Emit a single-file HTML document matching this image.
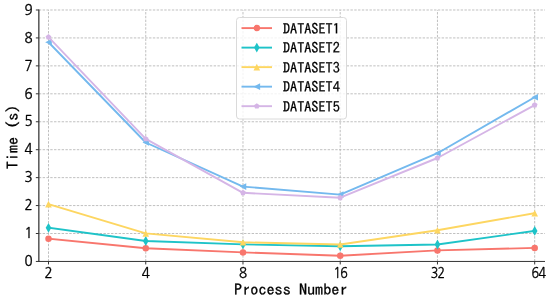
<!DOCTYPE html>
<html><head><meta charset="utf-8"><title>chart</title>
<style>html,body{margin:0;padding:0;background:#fff}body{width:550px;height:299px;overflow:hidden}</style></head>
<body>
<svg width="550" height="299" viewBox="0 0 550 299" style="display:block;font-family:IPAGothic, 'Liberation Mono', monospace">
<rect width="550" height="299" fill="#fff"/>
<path d="M48.50 261.45V10.0M145.74 261.45V10.0M242.98 261.45V10.0M340.22 261.45V10.0M437.46 261.45V10.0M534.70 261.45V10.0M38.85 233.51H545.0M38.85 205.57H545.0M38.85 177.63H545.0M38.85 149.69H545.0M38.85 121.75H545.0M38.85 93.81H545.0M38.85 65.87H545.0M38.85 37.93H545.0M38.85 9.99H545.0" stroke="#b0b0b0" stroke-width="0.8" stroke-dasharray="2.4 1.4" fill="none"/>
<polyline points="48.50,238.70 145.74,248.20 242.98,252.40 340.22,255.70 437.46,250.40 534.70,247.90" fill="none" stroke="#f8766d" stroke-width="1.9" stroke-linejoin="round" stroke-linecap="square"/>
<circle cx="48.50" cy="238.70" r="3.25" fill="#f8766d"/>
<circle cx="145.74" cy="248.20" r="3.25" fill="#f8766d"/>
<circle cx="242.98" cy="252.40" r="3.25" fill="#f8766d"/>
<circle cx="340.22" cy="255.70" r="3.25" fill="#f8766d"/>
<circle cx="437.46" cy="250.40" r="3.25" fill="#f8766d"/>
<circle cx="534.70" cy="247.90" r="3.25" fill="#f8766d"/>
<polyline points="48.50,227.80 145.74,241.00 242.98,244.40 340.22,246.30 437.46,244.50 534.70,230.90" fill="none" stroke="#1ec3c8" stroke-width="1.9" stroke-linejoin="round" stroke-linecap="square"/>
<path d="M48.50 222.90L51.30 227.80L48.50 232.70L45.70 227.80Z" fill="#1ec3c8"/>
<path d="M145.74 236.10L148.54 241.00L145.74 245.90L142.94 241.00Z" fill="#1ec3c8"/>
<path d="M242.98 239.50L245.78 244.40L242.98 249.30L240.18 244.40Z" fill="#1ec3c8"/>
<path d="M340.22 241.40L343.02 246.30L340.22 251.20L337.42 246.30Z" fill="#1ec3c8"/>
<path d="M437.46 239.60L440.26 244.50L437.46 249.40L434.66 244.50Z" fill="#1ec3c8"/>
<path d="M534.70 226.00L537.50 230.90L534.70 235.80L531.90 230.90Z" fill="#1ec3c8"/>
<polyline points="48.50,204.10 145.74,233.40 242.98,242.30 340.22,244.50 437.46,230.30 534.70,213.20" fill="none" stroke="#fdd661" stroke-width="1.9" stroke-linejoin="round" stroke-linecap="square"/>
<path d="M48.50 200.80L51.80 207.40L45.20 207.40Z" fill="#fdd661"/>
<path d="M145.74 230.10L149.04 236.70L142.44 236.70Z" fill="#fdd661"/>
<path d="M242.98 239.00L246.28 245.60L239.68 245.60Z" fill="#fdd661"/>
<path d="M340.22 241.20L343.52 247.80L336.92 247.80Z" fill="#fdd661"/>
<path d="M437.46 227.00L440.76 233.60L434.16 233.60Z" fill="#fdd661"/>
<path d="M534.70 209.90L538.00 216.50L531.40 216.50Z" fill="#fdd661"/>
<polyline points="48.50,42.20 145.74,142.50 242.98,186.60 340.22,194.60 437.46,153.20 534.70,97.20" fill="none" stroke="#74b9ee" stroke-width="1.9" stroke-linejoin="round" stroke-linecap="square"/>
<path d="M45.20 42.20L51.80 38.90L51.80 45.50Z" fill="#74b9ee"/>
<path d="M142.44 142.50L149.04 139.20L149.04 145.80Z" fill="#74b9ee"/>
<path d="M239.68 186.60L246.28 183.30L246.28 189.90Z" fill="#74b9ee"/>
<path d="M336.92 194.60L343.52 191.30L343.52 197.90Z" fill="#74b9ee"/>
<path d="M434.16 153.20L440.76 149.90L440.76 156.50Z" fill="#74b9ee"/>
<path d="M531.40 97.20L538.00 93.90L538.00 100.50Z" fill="#74b9ee"/>
<polyline points="48.50,37.10 145.74,138.90 242.98,192.80 340.22,197.70 437.46,158.00 534.70,105.00" fill="none" stroke="#d5b5e6" stroke-width="1.9" stroke-linejoin="round" stroke-linecap="square"/>
<path d="M48.50 34.10L51.35 36.17L50.26 39.53L46.74 39.53L45.65 36.17Z" fill="#d5b5e6"/>
<path d="M145.74 135.90L148.59 137.97L147.50 141.33L143.98 141.33L142.89 137.97Z" fill="#d5b5e6"/>
<path d="M242.98 189.80L245.83 191.87L244.74 195.23L241.22 195.23L240.13 191.87Z" fill="#d5b5e6"/>
<path d="M340.22 194.70L343.07 196.77L341.98 200.13L338.46 200.13L337.37 196.77Z" fill="#d5b5e6"/>
<path d="M437.46 155.00L440.31 157.07L439.22 160.43L435.70 160.43L434.61 157.07Z" fill="#d5b5e6"/>
<path d="M534.70 102.00L537.55 104.07L536.46 107.43L532.94 107.43L531.85 104.07Z" fill="#d5b5e6"/>
<path d="M38.85 9.5V261.95" stroke="#2a2a2a" stroke-width="1.2" fill="none"/>
<path d="M38.35 261.45H545.0" stroke="#333" stroke-width="1" fill="none"/>
<path d="M48.50 261.45v3.0M145.74 261.45v3.0M242.98 261.45v3.0M340.22 261.45v3.0M437.46 261.45v3.0M534.70 261.45v3.0M38.85 261.45h-3.0M38.85 233.51h-3.0M38.85 205.57h-3.0M38.85 177.63h-3.0M38.85 149.69h-3.0M38.85 121.75h-3.0M38.85 93.81h-3.0M38.85 65.87h-3.0M38.85 37.93h-3.0M38.85 9.99h-3.0" stroke="#333" stroke-width="1" fill="none"/>
<g font-family="NanumGothic, 'Liberation Sans', sans-serif" font-size="13.4" fill="#000" stroke="#000" stroke-width="0.35">
<text transform="translate(48.50 277.5) scale(1 1.01)" text-anchor="middle">2</text>
<text transform="translate(145.74 277.5) scale(1 1.01)" text-anchor="middle">4</text>
<text transform="translate(242.98 277.5) scale(1 1.01)" text-anchor="middle">8</text>
<text transform="translate(340.32 277.5) scale(0.93 1.01)" text-anchor="middle" letter-spacing="-0.8">16</text>
<text transform="translate(437.56 277.5) scale(0.93 1.01)" text-anchor="middle" letter-spacing="-0.8">32</text>
<text transform="translate(538.40 277.5) scale(0.93 1.01)" text-anchor="middle" letter-spacing="-0.8">64</text>
<text transform="translate(32.5 266.15) scale(1 1)" text-anchor="end">0</text>
<text transform="translate(32.5 238.21) scale(1 1)" text-anchor="end">1</text>
<text transform="translate(32.5 210.27) scale(1 1)" text-anchor="end">2</text>
<text transform="translate(32.5 182.33) scale(1 1)" text-anchor="end">3</text>
<text transform="translate(32.5 154.39) scale(1 1)" text-anchor="end">4</text>
<text transform="translate(32.5 126.45) scale(1 1)" text-anchor="end">5</text>
<text transform="translate(32.5 98.51) scale(1 1)" text-anchor="end">6</text>
<text transform="translate(32.5 70.57) scale(1 1)" text-anchor="end">7</text>
<text transform="translate(32.5 42.63) scale(1 1)" text-anchor="end">8</text>
<text transform="translate(32.5 14.69) scale(1 1)" text-anchor="end">9</text>
</g>
<g fill="#000" stroke="#000" stroke-width="0.3">
<text transform="translate(290.8 295.3) scale(1 0.94)" font-size="16.2" text-anchor="middle">Process Number</text>
<text transform="translate(18.1 136.9) rotate(-90) scale(1 0.93)" font-size="16.2" text-anchor="middle">Time (s)</text>
</g>
<rect x="236.5" y="17.5" width="110" height="101.5" rx="3" fill="#fff" fill-opacity="0.8" stroke="#dadada" stroke-width="1"/>
<g font-size="14.2" fill="#000" stroke="#000" stroke-width="0.25">
<path d="M241.5 28.10H272" stroke="#f8766d" stroke-width="1.9" fill="none"/>
<circle cx="256.80" cy="28.10" r="3.25" fill="#f8766d" stroke="none"/>
<text transform="translate(283 33.70) scale(1 1.02)">DATASET1</text>
<path d="M241.5 47.62H272" stroke="#1ec3c8" stroke-width="1.9" fill="none"/>
<path d="M256.80 42.72L259.60 47.62L256.80 52.52L254.00 47.62Z" fill="#1ec3c8" stroke="none"/>
<text transform="translate(283 53.22) scale(1 1.02)">DATASET2</text>
<path d="M241.5 67.14H272" stroke="#fdd661" stroke-width="1.9" fill="none"/>
<path d="M256.80 63.84L260.10 70.44L253.50 70.44Z" fill="#fdd661" stroke="none"/>
<text transform="translate(283 72.74) scale(1 1.02)">DATASET3</text>
<path d="M241.5 86.66H272" stroke="#74b9ee" stroke-width="1.9" fill="none"/>
<path d="M253.50 86.66L260.10 83.36L260.10 89.96Z" fill="#74b9ee" stroke="none"/>
<text transform="translate(283 92.26) scale(1 1.02)">DATASET4</text>
<path d="M241.5 106.18H272" stroke="#d5b5e6" stroke-width="1.9" fill="none"/>
<path d="M256.80 103.18L259.65 105.25L258.56 108.61L255.04 108.61L253.95 105.25Z" fill="#d5b5e6" stroke="none"/>
<text transform="translate(283 111.78) scale(1 1.02)">DATASET5</text>
</g>
</svg>
</body></html>
